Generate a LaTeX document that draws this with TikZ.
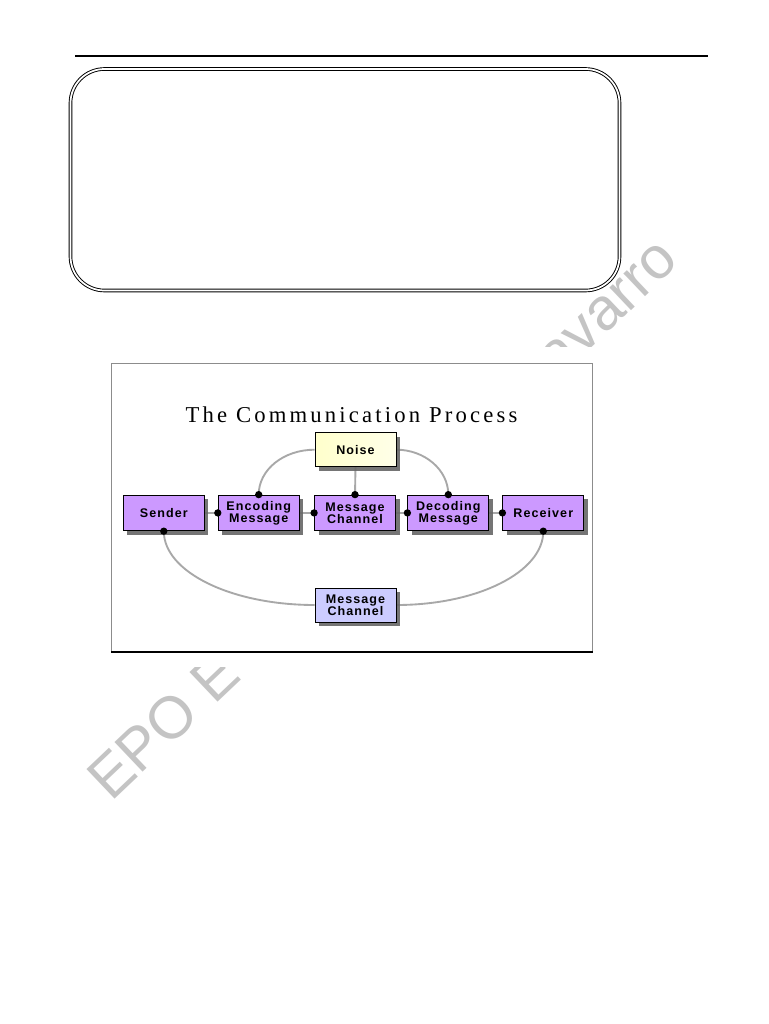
\documentclass[tikz,border=0pt]{standalone}
\usepackage{fontspec}
\setmainfont{Liberation Serif}
\newfontfamily\boxfont[LetterSpace=8.5]{Liberation Sans}
\newfontfamily\titlefont[LetterSpace=14]{Liberation Serif}
\newfontfamily\wmfont{Liberation Sans}
\usetikzlibrary{shadows}
\definecolor{boxpurple}{HTML}{CC99FF}
\definecolor{noiseyellow}{HTML}{FFFFCC}
\definecolor{chanblue}{HTML}{CCCCFF}
\definecolor{conngray}{HTML}{A8A8A8}
\pgfdeclarelayer{back}
\pgfdeclarelayer{bg}
\pgfsetlayers{back,bg,main}
\begin{document}
\begin{tikzpicture}[x=0.75pt,y=-0.75pt,
  wm/.style={text=black!23, font=\wmfont\fontsize{44.5}{44.5}\selectfont, inner sep=0pt},
  basebox/.style={draw=black, line width=0.6pt, inner sep=0pt, align=center,
     minimum width=60.75pt,
     font=\boxfont\bfseries\fontsize{9.4}{9}\selectfont,
     drop shadow={shadow xshift=3pt, shadow yshift=-3pt, fill=black!60, opacity=0.9}},
  pbox/.style={basebox, fill=boxpurple, minimum height=26.8pt},
  nbox/.style={basebox, left color=noiseyellow, right color=noiseyellow!45, minimum height=25.5pt},
  cbox/.style={basebox, fill=chanblue, minimum height=25.5pt},
  conn/.style={draw=conngray, line width=1.4pt},
  dot/.style={circle, fill=black, inner sep=0pt, minimum size=5.5pt}]
\useasboundingbox (0,0) rectangle (768,1024);

% page background, watermark and white cover of the pasted picture
\begin{pgfonlayer}{back}
\fill[white] (0,0) rectangle (768,1024);
\node[wm, anchor=base west, rotate=43.5] (wm1) at (111,803) {EPO E};
\node[wm, anchor=base east, rotate=43.5] (wm2) at (681,263) {Navarro};
\fill[white] (100,347) rectangle (604,667);
\end{pgfonlayer}

% header rule and empty rounded frame
\draw[line width=0.9pt] (75,56) -- (708,56);
\draw[double=white, double distance=1.3pt, line width=0.7pt, rounded corners=25.5pt, fill=white]
  (70.5,69) rectangle (619.5,290.5);

% picture frame
\draw[draw=black!45, line width=0.7pt] (111.5,652) -- (111.5,363) -- (592,363) -- (592,652);
\draw[black, line width=1.2pt] (111,652) -- (593,652);

\node[font=\titlefont\fontsize{17}{18}\selectfont, anchor=base] (title) at (351.5,422.3) {The Communication Process};

\node[pbox] (sender) at (163.8,512.9) {Sender};
\node[pbox] (enc) at (258.7,512.9) {Encoding\\Message};
\node[pbox] (mc) at (355,512.9) {Message\\Channel};
\node[pbox] (dec) at (448.3,512.9) {Decoding\\Message};
\node[pbox] (rec) at (543.3,512.9) {Receiver};
\node[nbox] (noise) at (355.5,449.7) {Noise};
\node[cbox] (mc2) at (355.5,605) {Message\\Channel};

\begin{pgfonlayer}{bg}
\draw[conn] (sender.east) -- (enc.west);
\draw[conn] (enc.east) -- (mc.west);
\draw[conn] (mc.east) -- (dec.west);
\draw[conn] (dec.east) -- (rec.west);
\draw[conn] (noise.south) -- (mc.north);
\draw[conn] (noise.west) .. controls +(-31,0) and +(0,-25) .. (enc.north);
\draw[conn] (noise.east) .. controls +(28,0) and +(0,-25) .. (dec.north);
\draw[conn] (sender.south) .. controls +(0,41) and +(-83,0) .. (mc2.west);
\draw[conn] (rec.south) .. controls +(0,41) and +(81,0) .. (mc2.east);
\end{pgfonlayer}

\node[dot] (d1) at (enc.west) {};
\node[dot] (d2) at (mc.west) {};
\node[dot] (d3) at (dec.west) {};
\node[dot] (d4) at (rec.west) {};
\node[dot] (d5) at (enc.north) {};
\node[dot] (d6) at (mc.north) {};
\node[dot] (d7) at (dec.north) {};
\node[dot] (d8) at (sender.south) {};
\node[dot] (d9) at (rec.south) {};
\end{tikzpicture}
\end{document}
